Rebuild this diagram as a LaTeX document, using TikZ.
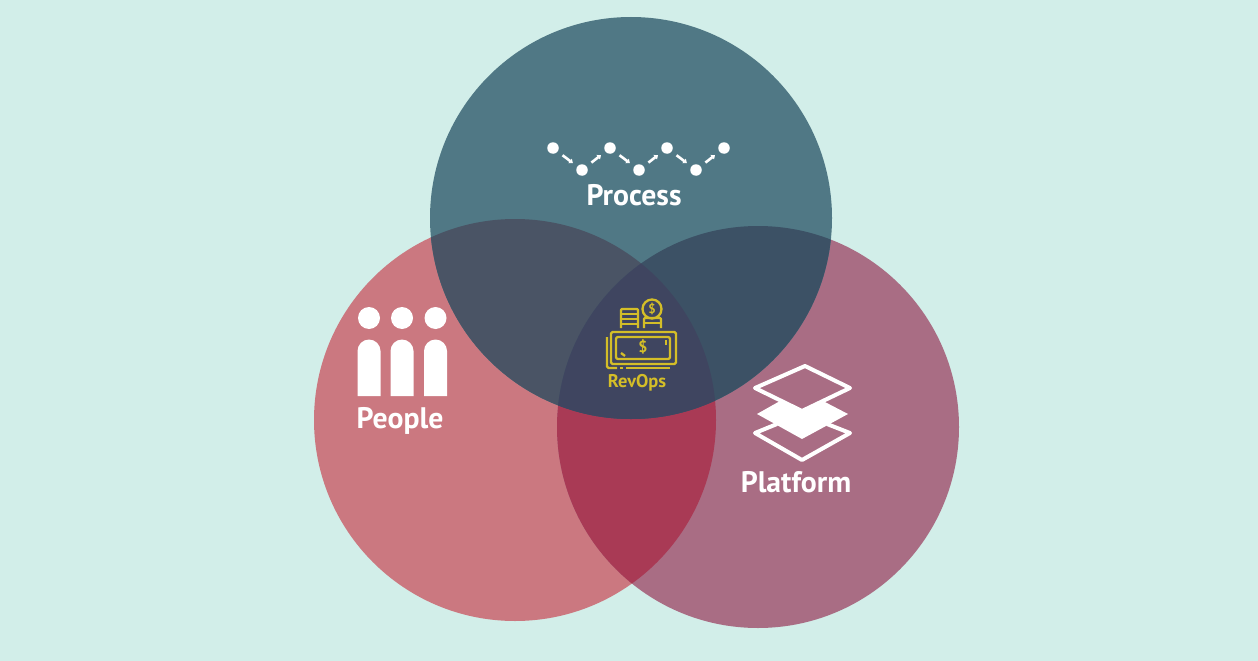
\documentclass[tikz,border=0pt]{standalone}
\usepackage{fontspec}
\setmainfont{PT Sans}
\usetikzlibrary{positioning, calc, arrows.meta}
\definecolor{bgteal}{HTML}{D2EEE9}
\definecolor{processcol}{HTML}{507885}
\definecolor{peoplecol}{HTML}{CB7880}
\definecolor{platformcol}{HTML}{A96D84}
\definecolor{peopleproc}{HTML}{4A5465}
\definecolor{procplat}{HTML}{3C5165}
\definecolor{peopleplat}{HTML}{A93A55}
\definecolor{centercol}{HTML}{3F4560}
\definecolor{revgold}{HTML}{D4BE28}
\tikzstyle{venn} = [circle, minimum size=402pt, inner sep=0pt]
\tikzstyle{label} = [text=white, font=\bfseries\fontsize{29.7}{30}\selectfont, inner sep=0pt]
\tikzstyle{dot} = [circle, fill=white, inner sep=0pt, minimum size=11.5pt]
\tikzstyle{head} = [circle, fill=white, inner sep=0pt, minimum size=22pt]
\tikzstyle{link} = [white, line width=2.6pt, -{Triangle[length=3.5pt, width=5.5pt]}, shorten >=5.5pt, shorten <=6pt]
\tikzstyle{sheet} = [white, line width=4pt, line join=round]
\tikzstyle{goldline} = [revgold, line width=2.3pt, line join=round]

\begin{document}
\begin{tikzpicture}[x=1pt, y=-1pt]
    % Background
    \fill [bgteal] (0,0) rectangle (1258,661);
    \useasboundingbox (0,0) rectangle (1258,661);

    % Define circles
    \node [venn, fill=peoplecol] (people) at (515,420) {};
    \node [venn, fill=platformcol] (platform) at (758,427) {};
    \node [venn, fill=processcol] (process) at (631,218) {};

    % Overlaps
    \begin{scope}
        \clip (people.center) circle (201);
        \fill [peopleplat] (platform.center) circle (201);
        \fill [peopleproc] (process.center) circle (201);
    \end{scope}
    \begin{scope}
        \clip (platform.center) circle (201);
        \fill [procplat] (process.center) circle (201);
    \end{scope}
    \begin{scope}
        \clip (people.center) circle (201);
        \clip (platform.center) circle (201);
        \fill [centercol] (process.center) circle (201);
    \end{scope}

    % Process icon
    \foreach \n/\x/\y in {1/553/148, 2/582/170, 3/610/148, 4/639/170, 5/667/148, 6/696/170, 7/724/148}
        \node [dot] (d\n) at (\x,\y) {};
    \foreach \a/\b in {1/2, 2/3, 3/4, 4/5, 5/6, 6/7}
        \draw [link] (d\a) -- (d\b);

    % People icon
    \foreach \n/\x in {1/369, 2/402, 3/435.5} {
        \node [head] (h\n) at (\x,318) {};
        \fill [white] (\x-11.5,396) -- (\x-11.5,351) arc (180:360:11.5) -- (\x+11.5,396) -- cycle;
    }

    % Platform icon
    \draw [sheet] (777,424) -- (755,433) -- (802,460) -- (850,433) -- (827,424);
    \fill [white] (780,401) -- (757,414) -- (802,439) -- (848,414) -- (823,401) -- (802,412) -- cycle;
    \draw [sheet] (805,366) -- (850,388) -- (802,411) -- (755,388) -- cycle;

    % RevOps icon
    \draw [goldline, rounded corners=1.5pt] (611,332) rectangle (676,364);
    \draw [goldline, rounded corners=2pt] (616,337) rectangle (670,359);
    \draw [goldline, rounded corners=1.5pt] (607,337) -- (607,368) -- (617,368);
    \draw [goldline] (620,368) -- (623,368);
    \draw [goldline] (626,368) -- (670,368);
    \draw [goldline] (621,353) -- (625,356);
    \draw [goldline] (666,340) -- (666,345);
    \draw [goldline, rounded corners=1pt] (621,328) -- (621,309) -- (638,309) -- (638,328);
    \foreach \y in {314,319,324}
        \draw [goldline] (621,\y) -- (638,\y);
    \draw [goldline, rounded corners=1pt] (644,328) -- (644,318) -- (661,318) -- (661,328);
    \foreach \y in {323}
        \draw [goldline] (644,\y) -- (661,\y);
    \node [circle, draw=revgold, line width=2.3pt, minimum size=19pt, inner sep=0pt, text=revgold,
        font=\bfseries\fontsize{13}{13}\selectfont] (coin) at (652,309) {\$};
    \node [text=revgold, inner sep=0pt, font=\bfseries\fontsize{16}{16}\selectfont] (bill) at (643,347) {\$};

    % Labels
    \node [label] (processlabel) at (634,195) {Process};
    \node [label] (peoplelabel) at (400,421) {People};
    \node [label] (platformlabel) at (796,482) {Platform};
    \node [text=revgold, inner sep=0pt, font=\bfseries\fontsize{18.4}{18}\selectfont] (revops) at (637,383) {RevOps};
\end{tikzpicture}
\end{document}
